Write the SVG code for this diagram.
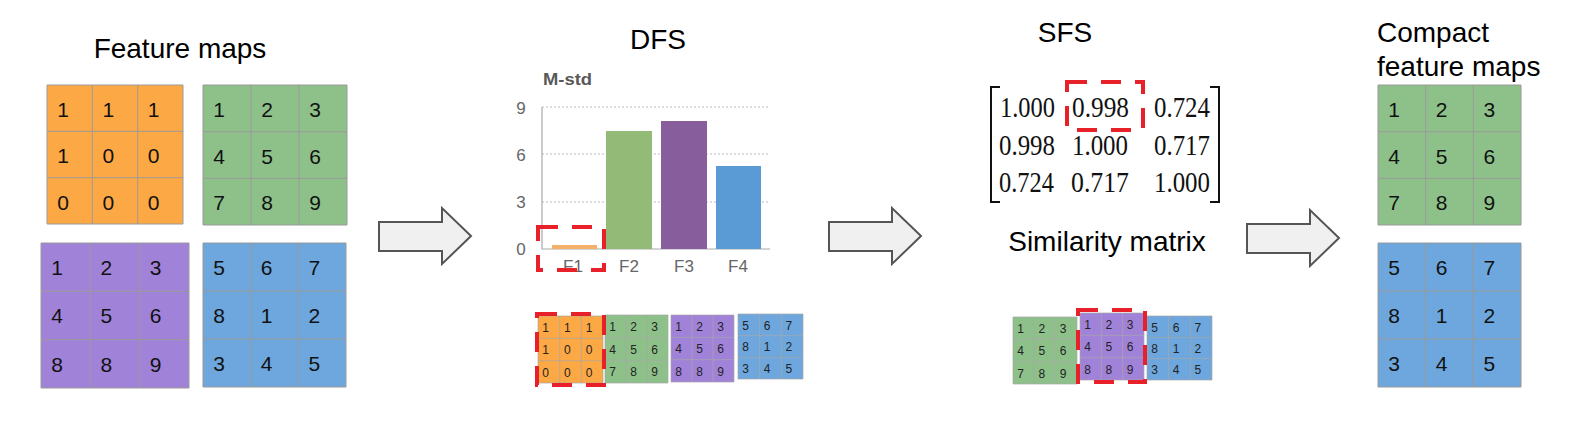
<svg xmlns="http://www.w3.org/2000/svg" width="1578" height="446" viewBox="0 0 1578 446">
<style>
.title{font-family:"Liberation Sans",Arial,sans-serif;font-size:28px;fill:#000}
.d{font-family:"Liberation Sans",Arial,sans-serif;font-size:21px;fill:#111;text-anchor:middle}
.s{font-family:"Liberation Sans",Arial,sans-serif;font-size:12px;fill:#222;text-anchor:middle}
.gl{stroke:#9a9a9a;stroke-width:1;fill:none}
.gls{stroke:#a8a8a8;stroke-width:0.7;fill:none}
.or{fill:#FCA844}.gr{fill:#8EC18A}.pu{fill:#A182D9}.bl{fill:#6DA7DD}
.red{fill:none;stroke:#E8202A;stroke-width:4;stroke-dasharray:20 14}
.ax{font-family:"Liberation Sans",Arial,sans-serif;font-size:17px;fill:#666}
.mx{font-family:"Liberation Serif","Times New Roman",serif;font-size:30px;fill:#111}
.arrow{fill:#F0F0F0;stroke:#555;stroke-width:2;stroke-linejoin:miter}
</style>
<rect width="1578" height="446" fill="#fff"/>

<!-- Titles -->
<g id="titles">
<text class="title" x="180" y="58" text-anchor="middle">Feature maps</text>
<text class="title" x="658" y="49" text-anchor="middle">DFS</text>
<text class="title" x="1065" y="42" text-anchor="middle">SFS</text>
<text class="title" x="1107" y="251" text-anchor="middle">Similarity matrix</text>
<text class="title" x="1377" y="42">Compact</text>
<text class="title" x="1377" y="76">feature maps</text>
</g>

<!-- Big feature maps -->
<g id="fm-orange">
<rect class="or" x="47" y="85" width="136" height="139"/>
<path class="gl" d="M47 85h136v139h-136zM92.3 85v139M137.7 85v139M47 131.3h136M47 177.7h136"/>
<text class="d" x="63" y="117">1</text><text class="d" x="108.3" y="117">1</text><text class="d" x="153.7" y="117">1</text>
<text class="d" x="63" y="163.3">1</text><text class="d" x="108.3" y="163.3">0</text><text class="d" x="153.7" y="163.3">0</text>
<text class="d" x="63" y="209.7">0</text><text class="d" x="108.3" y="209.7">0</text><text class="d" x="153.7" y="209.7">0</text>
</g>
<g id="fm-green">
<rect class="gr" x="203" y="85" width="144" height="140"/>
<path class="gl" d="M203 85h144v140h-144zM251 85v140M299 85v140M203 131.7h144M203 178.3h144"/>
<text class="d" x="219" y="117">1</text><text class="d" x="267" y="117">2</text><text class="d" x="315" y="117">3</text>
<text class="d" x="219" y="163.7">4</text><text class="d" x="267" y="163.7">5</text><text class="d" x="315" y="163.7">6</text>
<text class="d" x="219" y="210.3">7</text><text class="d" x="267" y="210.3">8</text><text class="d" x="315" y="210.3">9</text>
</g>
<g id="fm-purple">
<rect class="pu" x="41" y="243" width="148" height="145"/>
<path class="gl" d="M41 243h148v145h-148zM90.3 243v145M139.7 243v145M41 291.3h148M41 339.7h148"/>
<text class="d" x="57" y="275">1</text><text class="d" x="106.3" y="275">2</text><text class="d" x="155.7" y="275">3</text>
<text class="d" x="57" y="323.3">4</text><text class="d" x="106.3" y="323.3">5</text><text class="d" x="155.7" y="323.3">6</text>
<text class="d" x="57" y="371.7">8</text><text class="d" x="106.3" y="371.7">8</text><text class="d" x="155.7" y="371.7">9</text>
</g>
<g id="fm-blue">
<rect class="bl" x="203" y="243" width="143" height="144"/>
<path class="gl" d="M203 243h143v144h-143zM250.7 243v144M298.3 243v144M203 291h143M203 339h143"/>
<text class="d" x="219" y="275">5</text><text class="d" x="266.7" y="275">6</text><text class="d" x="314.3" y="275">7</text>
<text class="d" x="219" y="323">8</text><text class="d" x="266.7" y="323">1</text><text class="d" x="314.3" y="323">2</text>
<text class="d" x="219" y="371">3</text><text class="d" x="266.7" y="371">4</text><text class="d" x="314.3" y="371">5</text>
</g>

<!-- DFS chart -->
<g id="dfs-chart">
<text x="543" y="85" font-family="Liberation Sans,Arial,sans-serif" font-size="16" font-weight="bold" fill="#595959" textLength="49" lengthAdjust="spacingAndGlyphs">M-std</text>
<path d="M542 107H770M542 154H770M542 202H770" stroke="#bbb" stroke-width="1" stroke-dasharray="2 2" fill="none"/>
<path d="M542 107V249H770" stroke="#aaa" stroke-width="1.2" fill="none"/>
<text class="ax" x="521" y="114" text-anchor="middle">9</text>
<text class="ax" x="521" y="161" text-anchor="middle">6</text>
<text class="ax" x="521" y="208" text-anchor="middle">3</text>
<text class="ax" x="521" y="255" text-anchor="middle">0</text>
<rect x="552" y="245" width="45" height="4" fill="#F5B06A"/>
<rect x="606" y="131" width="46" height="118" fill="#93BB77"/>
<rect x="661" y="121" width="46" height="128" fill="#875D9B"/>
<rect x="716" y="166" width="45" height="83" fill="#5B9BD5"/>
<text class="ax" x="573" y="272" text-anchor="middle">F1</text>
<text class="ax" x="629" y="272" text-anchor="middle">F2</text>
<text class="ax" x="684" y="272" text-anchor="middle">F3</text>
<text class="ax" x="738" y="272" text-anchor="middle">F4</text>
<rect class="red" x="538" y="227" width="66" height="43"/>
</g>

<!-- DFS small maps -->
<g id="dfs-small">
<rect class="or" x="538" y="316" width="65" height="67"/>
<path class="gls" d="M538 316h65v67h-65zM559.7 316v67M581.3 316v67M538 338.3h65M538 360.7h65"/>
<text class="s" x="545.6" y="332">1</text><text class="s" x="567.3" y="332">1</text><text class="s" x="589" y="332">1</text>
<text class="s" x="545.6" y="354.3">1</text><text class="s" x="567.3" y="354.3">0</text><text class="s" x="589" y="354.3">0</text>
<text class="s" x="545.6" y="376.7">0</text><text class="s" x="567.3" y="376.7">0</text><text class="s" x="589" y="376.7">0</text>

<rect class="gr" x="605" y="315" width="63" height="68"/>
<path class="gls" d="M605 315h63v68h-63zM626 315v68M647 315v68M605 337.7h63M605 360.3h63"/>
<text class="s" x="612.5" y="331">1</text><text class="s" x="633.5" y="331">2</text><text class="s" x="654.5" y="331">3</text>
<text class="s" x="612.5" y="353.7">4</text><text class="s" x="633.5" y="353.7">5</text><text class="s" x="654.5" y="353.7">6</text>
<text class="s" x="612.5" y="376.3">7</text><text class="s" x="633.5" y="376.3">8</text><text class="s" x="654.5" y="376.3">9</text>

<rect class="pu" x="671" y="315" width="63" height="67"/>
<path class="gls" d="M671 315h63v67h-63zM692 315v67M713 315v67M671 337.3h63M671 359.7h63"/>
<text class="s" x="678.5" y="331">1</text><text class="s" x="699.5" y="331">2</text><text class="s" x="720.5" y="331">3</text>
<text class="s" x="678.5" y="353.3">4</text><text class="s" x="699.5" y="353.3">5</text><text class="s" x="720.5" y="353.3">6</text>
<text class="s" x="678.5" y="375.7">8</text><text class="s" x="699.5" y="375.7">8</text><text class="s" x="720.5" y="375.7">9</text>

<rect class="bl" x="738" y="314" width="65" height="65"/>
<path class="gls" d="M738 314h65v65h-65zM759.7 314v65M781.3 314v65M738 335.7h65M738 357.3h65"/>
<text class="s" x="745.5" y="329.5">5</text><text class="s" x="767.2" y="329.5">6</text><text class="s" x="788.8" y="329.5">7</text>
<text class="s" x="745.5" y="351.2">8</text><text class="s" x="767.2" y="351.2">1</text><text class="s" x="788.8" y="351.2">2</text>
<text class="s" x="745.5" y="372.8">3</text><text class="s" x="767.2" y="372.8">4</text><text class="s" x="788.8" y="372.8">5</text>

<rect class="red" x="537" y="314" width="67" height="71"/>
</g>

<!-- Similarity matrix -->
<g id="sfs-matrix">
<path d="M1000 87H991V202H1000M1210 87H1219V202H1210" stroke="#111" stroke-width="2" fill="none"/>
<text class="mx" x="1000" y="117" textLength="55" lengthAdjust="spacingAndGlyphs">1.000</text>
<text class="mx" x="1072" y="117" textLength="57" lengthAdjust="spacingAndGlyphs">0.998</text>
<text class="mx" x="1154" y="117" textLength="56" lengthAdjust="spacingAndGlyphs">0.724</text>
<text class="mx" x="999" y="155" textLength="56" lengthAdjust="spacingAndGlyphs">0.998</text>
<text class="mx" x="1072" y="155" textLength="56" lengthAdjust="spacingAndGlyphs">1.000</text>
<text class="mx" x="1154" y="155" textLength="56" lengthAdjust="spacingAndGlyphs">0.717</text>
<text class="mx" x="999" y="192" textLength="55" lengthAdjust="spacingAndGlyphs">0.724</text>
<text class="mx" x="1071" y="192" textLength="58" lengthAdjust="spacingAndGlyphs">0.717</text>
<text class="mx" x="1154" y="192" textLength="56" lengthAdjust="spacingAndGlyphs">1.000</text>
<rect class="red" x="1067" y="82" width="76" height="48"/>
</g>

<!-- SFS small maps -->
<g id="sfs-small">
<rect class="gr" x="1013" y="317" width="64" height="67"/>
<path class="gls" d="M1013 317h64v67h-64zM1034.3 317v67M1055.7 317v67M1013 339.3h64M1013 361.7h64"/>
<text class="s" x="1020.5" y="333">1</text><text class="s" x="1041.8" y="333">2</text><text class="s" x="1063.2" y="333">3</text>
<text class="s" x="1020.5" y="355.3">4</text><text class="s" x="1041.8" y="355.3">5</text><text class="s" x="1063.2" y="355.3">6</text>
<text class="s" x="1020.5" y="377.7">7</text><text class="s" x="1041.8" y="377.7">8</text><text class="s" x="1063.2" y="377.7">9</text>

<rect class="pu" x="1080" y="313" width="64" height="67"/>
<path class="gls" d="M1080 313h64v67h-64zM1101.3 313v67M1122.7 313v67M1080 335.3h64M1080 357.7h64"/>
<text class="s" x="1087.5" y="329">1</text><text class="s" x="1108.8" y="329">2</text><text class="s" x="1130.2" y="329">3</text>
<text class="s" x="1087.5" y="351.3">4</text><text class="s" x="1108.8" y="351.3">5</text><text class="s" x="1130.2" y="351.3">6</text>
<text class="s" x="1087.5" y="373.7">8</text><text class="s" x="1108.8" y="373.7">8</text><text class="s" x="1130.2" y="373.7">9</text>

<rect class="bl" x="1147" y="316" width="65" height="64"/>
<path class="gls" d="M1147 316h65v64h-65zM1168.7 316v64M1190.3 316v64M1147 337.3h65M1147 358.7h65"/>
<text class="s" x="1154.5" y="331.5">5</text><text class="s" x="1176.2" y="331.5">6</text><text class="s" x="1197.8" y="331.5">7</text>
<text class="s" x="1154.5" y="352.8">8</text><text class="s" x="1176.2" y="352.8">1</text><text class="s" x="1197.8" y="352.8">2</text>
<text class="s" x="1154.5" y="374.2">3</text><text class="s" x="1176.2" y="374.2">4</text><text class="s" x="1197.8" y="374.2">5</text>

<rect class="red" x="1078" y="310" width="67" height="72"/>
</g>

<!-- Compact feature maps -->
<g id="compact-green">
<rect class="gr" x="1378" y="85" width="143" height="140"/>
<path class="gl" d="M1378 85h143v140h-143zM1425.7 85v140M1473.3 85v140M1378 131.7h143M1378 178.3h143"/>
<text class="d" x="1394" y="117">1</text><text class="d" x="1441.7" y="117">2</text><text class="d" x="1489.3" y="117">3</text>
<text class="d" x="1394" y="163.7">4</text><text class="d" x="1441.7" y="163.7">5</text><text class="d" x="1489.3" y="163.7">6</text>
<text class="d" x="1394" y="210.3">7</text><text class="d" x="1441.7" y="210.3">8</text><text class="d" x="1489.3" y="210.3">9</text>
</g>
<g id="compact-blue">
<rect class="bl" x="1378" y="243" width="143" height="144"/>
<path class="gl" d="M1378 243h143v144h-143zM1425.7 243v144M1473.3 243v144M1378 291h143M1378 339h143"/>
<text class="d" x="1394" y="275">5</text><text class="d" x="1441.7" y="275">6</text><text class="d" x="1489.3" y="275">7</text>
<text class="d" x="1394" y="323">8</text><text class="d" x="1441.7" y="323">1</text><text class="d" x="1489.3" y="323">2</text>
<text class="d" x="1394" y="371">3</text><text class="d" x="1441.7" y="371">4</text><text class="d" x="1489.3" y="371">5</text>
</g>

<!-- Connectors -->
<g id="connectors">
<polygon class="arrow" points="379,222 442,222 442,208 471,236 442,264 442,251 379,251"/>
<polygon class="arrow" points="829,222 892,222 892,208 921,236 892,264 892,251 829,251"/>
<polygon class="arrow" points="1247,224 1310,224 1310,210 1339,238 1310,266 1310,253 1247,253"/>
</g>
</svg>
